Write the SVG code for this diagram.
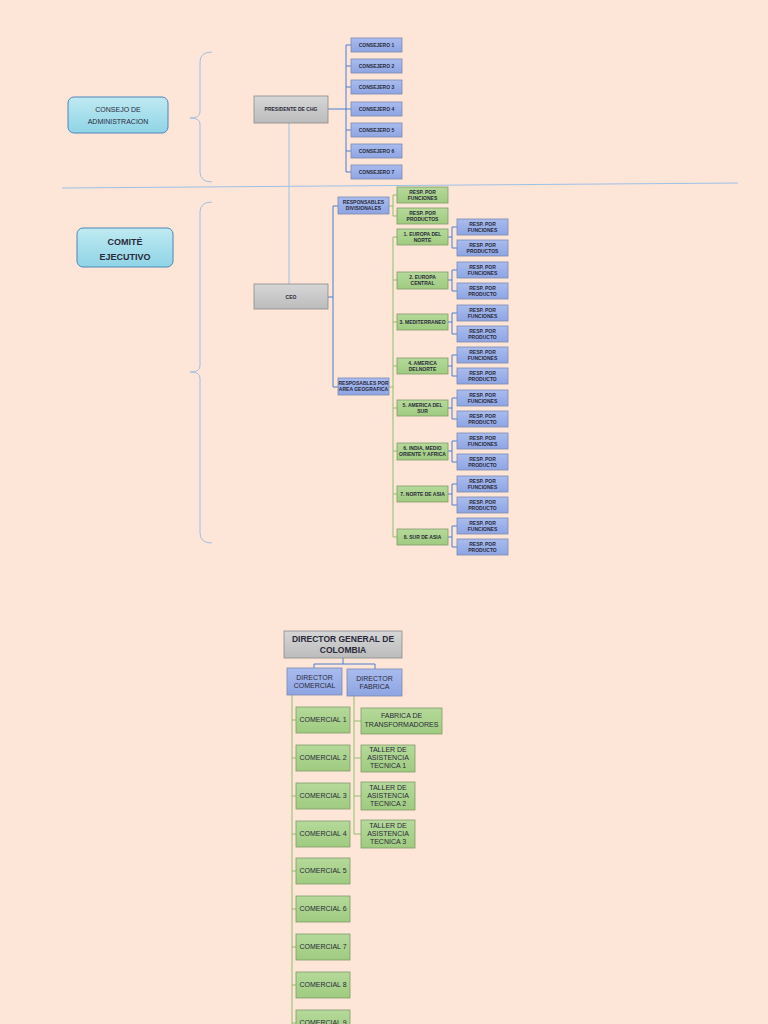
<svg xmlns="http://www.w3.org/2000/svg" width="768" height="1024" viewBox="0 0 768 1024">
<defs>
<linearGradient id="gb" x1="0" y1="0" x2="0" y2="1"><stop offset="0" stop-color="#a9bcef"/><stop offset="1" stop-color="#8ea5e3"/></linearGradient>
<linearGradient id="gg" x1="0" y1="0" x2="0" y2="1"><stop offset="0" stop-color="#b5d99a"/><stop offset="1" stop-color="#9fcb80"/></linearGradient>
<linearGradient id="gr" x1="0" y1="0" x2="0" y2="1"><stop offset="0" stop-color="#d6d6d6"/><stop offset="1" stop-color="#bcbcbc"/></linearGradient>
<linearGradient id="gc" x1="0" y1="0" x2="0" y2="1"><stop offset="0" stop-color="#bfeaf2"/><stop offset="1" stop-color="#8fd4e6"/></linearGradient>
</defs>
<style>
.b{fill:url(#gb);stroke:#7a8bb0;stroke-width:0.8}
.g{fill:url(#gg);stroke:#7f9c6a;stroke-width:0.8}
.r{fill:url(#gr);stroke:#8a8a8a;stroke-width:0.8}
.c{fill:url(#gc);stroke:#4f86b8;stroke-width:1}
.t{font-family:"Liberation Sans",Arial,sans-serif;font-weight:bold;fill:#2a2a3a;text-anchor:middle}
.s{font-size:5px}.m{font-size:7px;font-weight:normal}.l{font-size:9px}
.lb{fill:none;stroke:#4a7fd0;stroke-width:1}
.lg{fill:none;stroke:#8fc06a;stroke-width:1}
.lc{fill:none;stroke:#9ec0e6;stroke-width:1}
</style>
<rect width="768" height="1024" fill="#fde5d8"/>
<g id="connectors">
<path class="lc" d="M62 188 L738 183"/>
<path class="lc" d="M212 52 Q200 52 200 62 L200 112 Q200 118 190 118 Q200 118 200 124 L200 172 Q200 182 212 182"/>
<path class="lc" d="M212 202 Q200 202 200 212 L200 366 Q200 372 190 372 Q200 372 200 378 L200 533 Q200 543 212 543"/>
<path class="lc" d="M289 123 L289 284"/>
<path class="lb" d="M328 109 L346 109 M346 45 L346 172 M346 45 L351 45 M346 66 L351 66 M346 87 L351 87 M346 109 L351 109 M346 130 L351 130 M346 151 L351 151 M346 172 L351 172"/>
<path class="lb" d="M328 297 L333 297 M333 206 L333 387 M333 206 L338 206 M333 387 L338 387"/>
<path class="lg" d="M389 206 L393 206 M393 195 L393 216 M393 195 L397 195 M393 216 L397 216"/>
<path class="lg" d="M389 387 L393 387 M393 237 L393 537 M393 237 L397 237 M393 280 L397 280 M393 322 L397 322 M393 366 L397 366 M393 408 L397 408 M393 451 L397 451 M393 494 L397 494 M393 537 L397 537"/>
<path class="lb" d="M448 237 L452 237 M452 227 L452 248 M452 227 L457 227 M452 248 L457 248
M448 280 L452 280 M452 270 L452 291 M452 270 L457 270 M452 291 L457 291
M448 322 L452 322 M452 313 L452 334 M452 313 L457 313 M452 334 L457 334
M448 366 L452 366 M452 355 L452 376 M452 355 L457 355 M452 376 L457 376
M448 408 L452 408 M452 398 L452 419 M452 398 L457 398 M452 419 L457 419
M448 451 L452 451 M452 441 L452 462 M452 441 L457 441 M452 462 L457 462
M448 494 L452 494 M452 484 L452 505 M452 484 L457 484 M452 505 L457 505
M448 537 L452 537 M452 526 L452 547 M452 526 L457 526 M452 547 L457 547"/>
<path class="lb" d="M343 658 L343 664 M314 668 L314 664 L375 664 L375 669"/>
<path class="lg" d="M292 695 L292 1024 M292 720 L296 720 M292 758 L296 758 M292 796 L296 796 M292 834 L296 834 M292 871 L296 871 M292 909 L296 909 M292 947 L296 947 M292 985 L296 985 M292 1023 L296 1023"/>
<path class="lg" d="M354 696 L354 834 M354 721 L361 721 M354 758 L361 758 M354 796 L361 796 M354 834 L361 834"/>
</g>
<g id="consejo-admin"><rect class="c" x="68" y="97" width="100" height="36" rx="6"/><text class="t m" x="118" y="112">CONSEJO DE</text><text class="t m" x="118" y="124">ADMINISTRACION</text></g>
<g id="comite"><rect class="c" x="77" y="228" width="96" height="39" rx="6"/><text class="t l" x="125" y="245" font-weight="normal">COMITÉ</text><text class="t l" x="125" y="260" font-weight="normal">EJECUTIVO</text></g>
<g id="presidente"><rect class="r" x="254" y="96" width="74" height="27"/><text class="t s" x="291" y="111" font-size="6">PRESIDENTE DE CHG</text></g>
<g id="consejeros">
<rect class="b" x="351" y="38" width="51" height="14"/><text class="t s" x="376.5" y="47">CONSEJERO 1</text>
<rect class="b" x="351" y="59" width="51" height="14"/><text class="t s" x="376.5" y="68">CONSEJERO 2</text>
<rect class="b" x="351" y="80" width="51" height="14"/><text class="t s" x="376.5" y="89">CONSEJERO 3</text>
<rect class="b" x="351" y="102" width="51" height="14"/><text class="t s" x="376.5" y="111">CONSEJERO 4</text>
<rect class="b" x="351" y="123" width="51" height="14"/><text class="t s" x="376.5" y="132">CONSEJERO 5</text>
<rect class="b" x="351" y="144" width="51" height="14"/><text class="t s" x="376.5" y="153">CONSEJERO 6</text>
<rect class="b" x="351" y="165" width="51" height="14"/><text class="t s" x="376.5" y="174">CONSEJERO 7</text>
</g>
<g id="ceo"><rect class="r" x="254" y="284" width="74" height="25"/><text class="t s" x="291" y="299" font-size="6">CEO</text></g>
<g id="divisionales"><rect class="b" x="338" y="197" width="51" height="17"/><text class="t s" x="363.5" y="204">RESPONSABLES</text><text class="t s" x="363.5" y="210">DIVISIONALES</text></g>
<g id="geografica"><rect class="b" x="338" y="378" width="51" height="17"/><text class="t s" x="363.5" y="385">RESPOSABLES POR</text><text class="t s" x="363.5" y="391">AREA GEOGRAFICA</text></g>
<g id="div-resp">
<rect class="g" x="397" y="187" width="51" height="16"/><text class="t s" x="422.5" y="194">RESP. POR</text><text class="t s" x="422.5" y="200">FUNCIONES</text>
<rect class="g" x="397" y="208" width="51" height="16"/><text class="t s" x="422.5" y="215">RESP. POR</text><text class="t s" x="422.5" y="221">PRODUCTOS</text>
</g>
<g id="regiones">
<rect class="g" x="397" y="229" width="51" height="16"/><text class="t s" x="422.5" y="236">1. EUROPA DEL</text><text class="t s" x="422.5" y="242">NORTE</text>
<rect class="g" x="397" y="272" width="51" height="17"/><text class="t s" x="422.5" y="279">2. EUROPA</text><text class="t s" x="422.5" y="285">CENTRAL</text>
<rect class="g" x="397" y="314" width="51" height="16"/><text class="t s" x="422.5" y="324">3. MEDITERRANEO</text>
<rect class="g" x="397" y="358" width="51" height="16"/><text class="t s" x="422.5" y="365">4. AMERICA</text><text class="t s" x="422.5" y="371">DELNORTE</text>
<rect class="g" x="397" y="400" width="51" height="16"/><text class="t s" x="422.5" y="407">5. AMERICA DEL</text><text class="t s" x="422.5" y="413">SUR</text>
<rect class="g" x="397" y="443" width="51" height="17"/><text class="t s" x="422.5" y="450">6. INDIA, MEDIO</text><text class="t s" x="422.5" y="456">ORIENTE Y AFRICA</text>
<rect class="g" x="397" y="486" width="51" height="16"/><text class="t s" x="422.5" y="496">7. NORTE DE ASIA</text>
<rect class="g" x="397" y="529" width="51" height="16"/><text class="t s" x="422.5" y="539">8. SUR DE ASIA</text>
</g>
<g id="region-resp">
<rect class="b" x="457" y="219" width="51" height="16"/><text class="t s" x="482.5" y="226">RESP. POR</text><text class="t s" x="482.5" y="232">FUNCIONES</text>
<rect class="b" x="457" y="240" width="51" height="16"/><text class="t s" x="482.5" y="247">RESP. POR</text><text class="t s" x="482.5" y="253">PRODUCTOS</text>
<rect class="b" x="457" y="262" width="51" height="16"/><text class="t s" x="482.5" y="269">RESP. POR</text><text class="t s" x="482.5" y="275">FUNCIONES</text>
<rect class="b" x="457" y="283" width="51" height="16"/><text class="t s" x="482.5" y="290">RESP. POR</text><text class="t s" x="482.5" y="296">PRODUCTO</text>
<rect class="b" x="457" y="305" width="51" height="16"/><text class="t s" x="482.5" y="312">RESP. POR</text><text class="t s" x="482.5" y="318">FUNCIONES</text>
<rect class="b" x="457" y="326" width="51" height="16"/><text class="t s" x="482.5" y="333">RESP. POR</text><text class="t s" x="482.5" y="339">PRODUCTO</text>
<rect class="b" x="457" y="347" width="51" height="16"/><text class="t s" x="482.5" y="354">RESP. POR</text><text class="t s" x="482.5" y="360">FUNCIONES</text>
<rect class="b" x="457" y="368" width="51" height="16"/><text class="t s" x="482.5" y="375">RESP. POR</text><text class="t s" x="482.5" y="381">PRODUCTO</text>
<rect class="b" x="457" y="390" width="51" height="16"/><text class="t s" x="482.5" y="397">RESP. POR</text><text class="t s" x="482.5" y="403">FUNCIONES</text>
<rect class="b" x="457" y="411" width="51" height="16"/><text class="t s" x="482.5" y="418">RESP. POR</text><text class="t s" x="482.5" y="424">PRODUCTO</text>
<rect class="b" x="457" y="433" width="51" height="16"/><text class="t s" x="482.5" y="440">RESP. POR</text><text class="t s" x="482.5" y="446">FUNCIONES</text>
<rect class="b" x="457" y="454" width="51" height="16"/><text class="t s" x="482.5" y="461">RESP. POR</text><text class="t s" x="482.5" y="467">PRODUCTO</text>
<rect class="b" x="457" y="476" width="51" height="16"/><text class="t s" x="482.5" y="483">RESP. POR</text><text class="t s" x="482.5" y="489">FUNCIONES</text>
<rect class="b" x="457" y="497" width="51" height="16"/><text class="t s" x="482.5" y="504">RESP. POR</text><text class="t s" x="482.5" y="510">PRODUCTO</text>
<rect class="b" x="457" y="518" width="51" height="16"/><text class="t s" x="482.5" y="525">RESP. POR</text><text class="t s" x="482.5" y="531">FUNCIONES</text>
<rect class="b" x="457" y="539" width="51" height="16"/><text class="t s" x="482.5" y="546">RESP. POR</text><text class="t s" x="482.5" y="552">PRODUCTO</text>
</g>
<g id="director-general"><rect class="r" x="284" y="631" width="118" height="27"/><text class="t" font-size="8.5" x="343" y="642">DIRECTOR GENERAL DE</text><text class="t" font-size="8.5" x="343" y="653">COLOMBIA</text></g>
<g id="director-comercial"><rect class="b" x="287" y="668" width="55" height="27"/><text class="t m" font-size="6.5" x="314.5" y="680">DIRECTOR</text><text class="t m" font-size="6.5" x="314.5" y="688">COMERCIAL</text></g>
<g id="director-fabrica"><rect class="b" x="347" y="669" width="55" height="27"/><text class="t m" font-size="6.5" x="374.5" y="681">DIRECTOR</text><text class="t m" font-size="6.5" x="374.5" y="689">FABRICA</text></g>
<g id="comerciales">
<rect class="g" x="296" y="707" width="54" height="26"/><text class="t m" font-size="6.5" x="323" y="722">COMERCIAL 1</text>
<rect class="g" x="296" y="745" width="54" height="26"/><text class="t m" font-size="6.5" x="323" y="760">COMERCIAL 2</text>
<rect class="g" x="296" y="783" width="54" height="26"/><text class="t m" font-size="6.5" x="323" y="798">COMERCIAL 3</text>
<rect class="g" x="296" y="821" width="54" height="26"/><text class="t m" font-size="6.5" x="323" y="836">COMERCIAL 4</text>
<rect class="g" x="296" y="858" width="54" height="26"/><text class="t m" font-size="6.5" x="323" y="873">COMERCIAL 5</text>
<rect class="g" x="296" y="896" width="54" height="26"/><text class="t m" font-size="6.5" x="323" y="911">COMERCIAL 6</text>
<rect class="g" x="296" y="934" width="54" height="26"/><text class="t m" font-size="6.5" x="323" y="949">COMERCIAL 7</text>
<rect class="g" x="296" y="972" width="54" height="26"/><text class="t m" font-size="6.5" x="323" y="987">COMERCIAL 8</text>
<rect class="g" x="296" y="1010" width="54" height="26"/><text class="t m" font-size="6.5" x="323" y="1025">COMERCIAL 9</text>
</g>
<g id="fabrica">
<rect class="g" x="361" y="708" width="81" height="26"/><text class="t m" font-size="6.5" x="401.5" y="718">FABRICA DE</text><text class="t m" font-size="6.5" x="401.5" y="727">TRANSFORMADORES</text>
<rect class="g" x="361" y="745" width="54" height="27"/><text class="t m" font-size="6.5" x="388" y="752">TALLER DE</text><text class="t m" font-size="6.5" x="388" y="760">ASISTENCIA</text><text class="t m" font-size="6.5" x="388" y="768">TECNICA 1</text>
<rect class="g" x="361" y="782" width="54" height="28"/><text class="t m" font-size="6.5" x="388" y="790">TALLER DE</text><text class="t m" font-size="6.5" x="388" y="798">ASISTENCIA</text><text class="t m" font-size="6.5" x="388" y="806">TECNICA 2</text>
<rect class="g" x="361" y="820" width="54" height="28"/><text class="t m" font-size="6.5" x="388" y="828">TALLER DE</text><text class="t m" font-size="6.5" x="388" y="836">ASISTENCIA</text><text class="t m" font-size="6.5" x="388" y="844">TECNICA 3</text>
</g>
</svg>
